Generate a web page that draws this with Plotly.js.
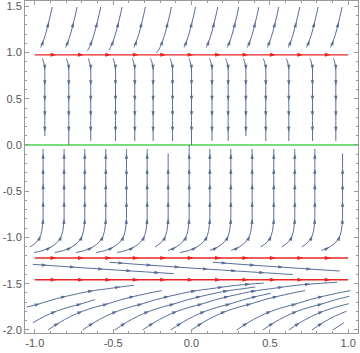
<!DOCTYPE html>
<html><head><meta charset="utf-8">
<script src="https://cdn.plot.ly/plotly-3.0.1.min.js"></script>
<style>html,body{margin:0;padding:0;background:#fff}#chart{width:360px;height:353px}</style>
</head><body><div id="chart"></div>
<script>
// ---------------- data ----------------
const xTickVals = [-1, -0.5, 0, 0.5, 1];
const xTickText = ['-1.0', '-0.5', '0.0', '0.5', '1.0'];
const yTickVals = [-2, -1.5, -1, -0.5, 0, 0.5, 1, 1.5];
const yTickText = ['-2.0', '-1.5', '-1.0', '-0.5', '0.0', '0.5', '1.0', '1.5'];

// equilibrium solutions (red) and the y = 0 line (green)
const redY = [0.975, -1.222, -1.457];
const redX = [-1, 1];
const redArrowX = [-0.86, -0.685, -0.51, -0.335, -0.16, 0.015, 0.19, 0.365, 0.54, 0.715, 0.89];
const greenY = [0, 0];
const greenX = [-1.0625, 1.0625];

// Region above y≈1 : streamline shape (dx from line offset, y)
const aShapeDx = [0, 0.0115, 0.0223, 0.0415, 0.0594, 0.0740, 0.0862, 0.0957];
const aShapeY  = [0.9946, 1.0216, 1.0541, 1.1351, 1.2324, 1.3297, 1.4162, 1.4919];
const aArrowIdx = [3, 5];
const aOffset = [-0.985, -0.826, -0.675, -0.539, -0.390, -0.224, -0.070, 0.072, 0.206, 0.334, 0.461, 0.595, 0.712, 0.865];
const aStart  = [2, 2, 1, 1, 2, 0, 2, 2, 2, 2, 2, 2, 2, 2];
const aEnd    = [7, 7, 7, 7, 7, 7, 7, 7, 7, 7, 7, 7, 7, 7];

// Region 0 < y < 1 : downward streamlines
const bShapeDx = [-0.016, -0.0077, -0.0019, 0, 0, 0, 0, 0, 0, 0, 0];
const bShapeY  = [0.9351, 0.8973, 0.8541, 0.8108, 0.6432, 0.4757, 0.3081, 0.1405, 0.0973, 0.0432, 0];
const bArrowIdx = [3, 4, 5, 6, 7];
const bOffset = [-0.936, -0.783, -0.643, -0.485, -0.362, -0.245, -0.121, 0.0, 0.131, 0.234, 0.347, 0.474, 0.621, 0.772, 0.921];
const bStart  = [0, 0, 0, 0, 0, 0, 0, 0, 0, 0, 0, 0, 0, 0, 0];
const bEnd    = [8, 10, 9, 9, 9, 9, 9, 10, 9, 9, 8, 9, 9, 9, 9];

// Region -1.22 < y < 0 : upward J-shaped streamlines
const cShapeDx = [-0.1914, -0.1340, -0.0830, -0.0415, -0.0160, -0.0045, 0, 0, 0, 0, 0, 0, 0, 0, 0, 0, 0];
const cShapeY  = [-1.1622, -1.1405, -1.1027, -1.0486, -0.9784, -0.8865, -0.7946, -0.7027, -0.6108, -0.5081, -0.4216, -0.3351, -0.2541, -0.1730, -0.0919, -0.0432, 0];
const cArrowIdx = [2, 4, 6, 8, 10, 12, 14];
const cOffset = [-0.947, -0.813, -0.681, -0.547, -0.415, -0.283, -0.149, -0.015, 0.117, 0.251, 0.387, 0.525, 0.659, 0.787, 0.964];
const cStart  = [2, 0, 0, 0, 0, 0, 2, 1, 0, 1, 1, 2, 2, 2, 1];
const cEnd    = [15, 15, 15, 15, 15, 15, 14, 16, 15, 15, 15, 15, 15, 15, 14];

// Region between the two lower red lines
const dShapeDx = [0, 0.09, 0.18, 0.27, 0.36, 0.45, 0.54, 0.63, 0.72, 0.81, 0.90, 0.99, 1.08, 1.17];
const dShapeY  = [-1.2681, -1.2794, -1.2904, -1.3012, -1.3119, -1.3224, -1.3327, -1.3428, -1.3529, -1.3627, -1.3723, -1.3818, -1.3911, -1.4002];
const dArrowIdx = [1, 3, 5, 7, 9, 11, 13];
const dOffset = [-1.1928, -0.5233, 0.136];
const dStart  = [2, 0, 0];
const dEnd    = [12, 13, 9];

// Region below y≈-1.46 : rising streamlines
const eShapeDx = [0, 0.0702, 0.1436, 0.2202, 0.2999, 0.3829, 0.4659, 0.5520, 0.6382, 0.7243, 0.8104, 0.8966, 0.9828, 1.0689, 1.1551, 1.2412, 1.3274];
const eShapeY  = [-2.0, -1.9222, -1.8541, -1.7978, -1.7535, -1.7157, -1.6724, -1.6357, -1.6032, -1.5751, -1.5557, -1.5351, -1.5168, -1.5038, -1.4930, -1.4843, -1.4778];
const eArrowIdx = [1, 3, 5, 7, 9, 11, 13, 15];
const eOffset = [-1.351, -1.083, -0.915, -0.694, -0.489, -0.311, -0.132, 0.0, 0.289, 0.455, 0.621, 0.768, 0.902];
const eStart  = [4, 1, 0, 0, 0, 0, 0, 0, 0, 0, 0, 0, 0];
const eEnd    = [12, 6, 9, 14, 11, 15, 8, 9, 9, 7, 5, 3, 1];

// ---------------- drawing ----------------
const W = 360, H = 353;
const M = {l: 25, r: 2, t: 1, b: 20};
const xRange = [-1.0625, 1.0625];
const yRange = [-2.033, 1.557];
const kx = (W - M.l - M.r) / (xRange[1] - xRange[0]);
const ky = (H - M.t - M.b) / (yRange[1] - yRange[0]);

const lineX = [], lineY = [];
const arrX = [], arrY = [], arrA = [];

function screenAngle(dx, dy) {
  return Math.atan2(dx * kx, dy * ky) * 180 / Math.PI;
}

function family(sdx, sy, offs, starts, ends, arrowIdx) {
  for (let k = 0; k < offs.length; k++) {
    const o = offs[k], s = starts[k], e = ends[k];
    for (let i = s; i <= e; i++) { lineX.push(o + sdx[i]); lineY.push(sy[i]); }
    lineX.push(null); lineY.push(null);
    arrowIdx.forEach(i => {
      if (i > s && i < e) {
        arrX.push(o + sdx[i]); arrY.push(sy[i]);
        arrA.push(screenAngle(sdx[i + 1] - sdx[i - 1], sy[i + 1] - sy[i - 1]));
      }
    });
  }
}
family(aShapeDx, aShapeY, aOffset, aStart, aEnd, aArrowIdx);
family(bShapeDx, bShapeY, bOffset, bStart, bEnd, bArrowIdx);
family(cShapeDx, cShapeY, cOffset, cStart, cEnd, cArrowIdx);
family(dShapeDx, dShapeY, dOffset, dStart, dEnd, dArrowIdx);
family(eShapeDx, eShapeY, eOffset, eStart, eEnd, eArrowIdx);

const blue = '#5a6e98';
const red = '#e82424';
const green = '#4ccf4c';

const redLX = [], redLY = [], redAX = [], redAY = [];
redY.forEach(y => {
  redLX.push(redX[0], redX[1], null); redLY.push(y, y, null);
  redArrowX.forEach(x => { redAX.push(x); redAY.push(y); });
});

const traces = [
  {x: greenX, y: greenY, mode: 'lines', line: {color: green, width: 1.4}, hoverinfo: 'skip'},
  {x: lineX, y: lineY, mode: 'lines', line: {color: blue, width: 1.0, shape: 'spline', smoothing: 1}, connectgaps: false, hoverinfo: 'skip'},
  {x: arrX, y: arrY, mode: 'markers', marker: {symbol: 'arrow', size: 5.5, color: blue, angle: arrA, line: {width: 0}}, hoverinfo: 'skip'},
  {x: redLX, y: redLY, mode: 'lines', line: {color: red, width: 1.3}, hoverinfo: 'skip'},
  {x: redAX, y: redAY, mode: 'markers', marker: {symbol: 'arrow', size: 6.5, color: red, angle: 90, line: {width: 0}}, hoverinfo: 'skip'}
];

const axisCommon = {
  ticks: 'inside', ticklen: 4, tickwidth: 1, tickcolor: '#999999',
  showline: true, linecolor: '#999999', linewidth: 1, mirror: 'ticks',
  showgrid: false, zeroline: false, fixedrange: true,
  tickmode: 'array',
  minor: {tickmode: 'linear', tick0: 0, dtick: 0.1, ticks: 'inside', ticklen: 2, tickcolor: '#999999', showgrid: false},
  tickfont: {family: 'Liberation Sans, Arial, sans-serif', size: 11, color: '#555555'}
};

const layout = {
  width: W, height: H, margin: M,
  paper_bgcolor: '#ffffff', plot_bgcolor: '#ffffff', showlegend: false,
  xaxis: Object.assign({}, axisCommon, {range: xRange, tickvals: xTickVals, ticktext: xTickText}),
  yaxis: Object.assign({}, axisCommon, {range: yRange, tickvals: yTickVals, ticktext: yTickText})
};

Plotly.newPlot('chart', traces, layout, {staticPlot: true, displayModeBar: false});
</script>
</body></html>
